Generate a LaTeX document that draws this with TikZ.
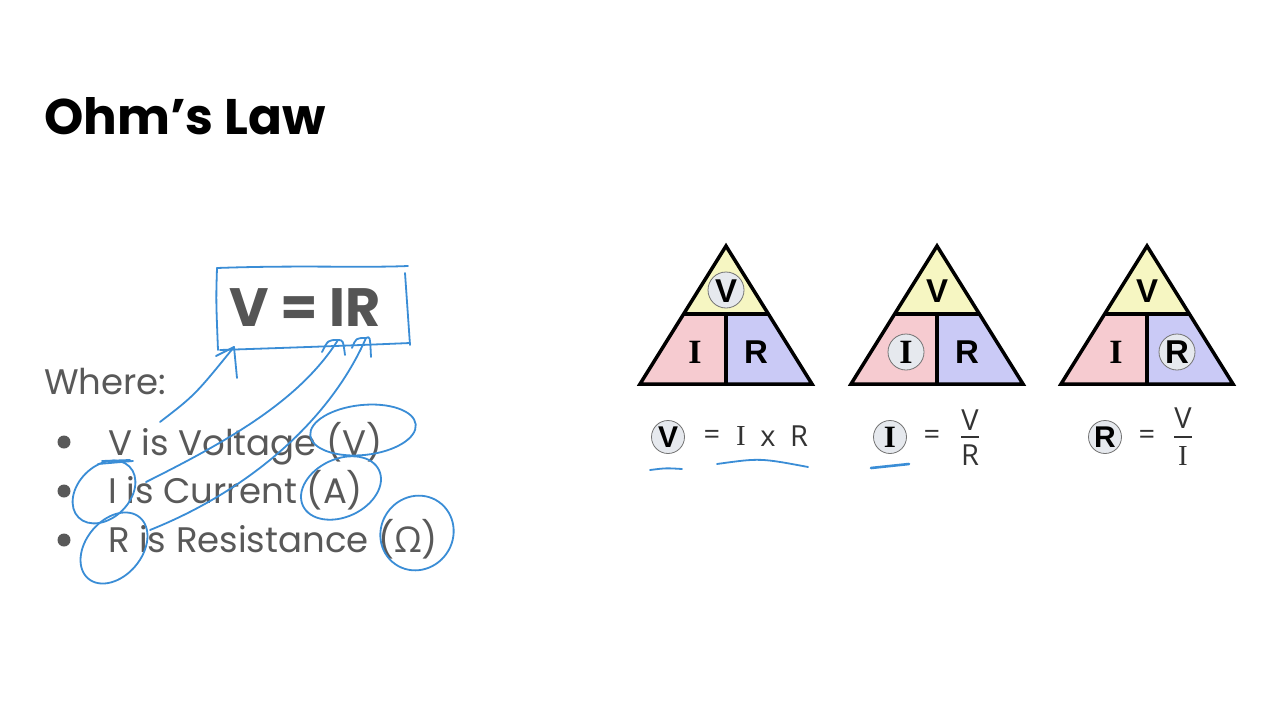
\documentclass[tikz,border=0pt]{standalone}
\usepackage{fontspec}
\setmainfont{Poppins}
\newfontfamily\symfont{Open Sans}
\newfontfamily\trifont{Liberation Sans}
\newfontfamily\slabfont{Liberation Serif}
\usetikzlibrary{arrows.meta,positioning}
\definecolor{pen}{HTML}{3A8DD6}
\definecolor{bodygray}{HTML}{595959}
\definecolor{lawgray}{HTML}{555555}
\definecolor{topyellow}{HTML}{F6F6C2}
\definecolor{leftpink}{HTML}{F6CBD0}
\definecolor{rightblue}{HTML}{CACAF6}
\definecolor{ringfill}{HTML}{E6E9EE}
\definecolor{formgray}{HTML}{333333}

\begin{document}
\begin{tikzpicture}[x=1pt,y=-1pt,
    pen/.style={draw=pen, line width=1.8pt, line cap=round, line join=round},
    bodytext/.style={text=bodygray, font=\fontsize{35.5}{40}\selectfont, anchor=base west, inner sep=0pt},
    dot/.style={circle, fill=bodygray, minimum size=13pt, inner sep=0pt},
    triletter/.style={font=\trifont\bfseries\fontsize{33}{35}\selectfont, inner sep=0pt},
    slabletter/.style={font=\slabfont\bfseries\fontsize{34}{35}\selectfont, inner sep=0pt},
    ring/.style={circle, fill=ringfill, draw=black!55, line width=0.8pt, minimum size=33pt, inner sep=0pt,
      font=\trifont\bfseries\fontsize{30}{31}\selectfont},
    formtext/.style={text=formgray, font=\symfont\fontsize{29}{31}\selectfont, inner sep=0pt}]
  \useasboundingbox[fill=white] (0,0) rectangle (1280,720);

  % title and law
  \node[anchor=base west, inner sep=0pt, font=\bfseries\fontsize{50}{54}\selectfont] (title) at (44,134) {Ohm’s Law};
  \node[anchor=base, inner sep=0pt, text=lawgray, font=\bfseries\fontsize{54}{58}\selectfont] (law) at (305,326) {V = IR};

  % list
  \node[bodytext] (where) at (44,394) {Where:};
  \node[dot] (b1) at (64,442) {};
  \node[dot] (b2) at (64,491) {};
  \node[dot] (b3) at (64,540) {};
  \node[bodytext] (volt) at (108,455) {V is Voltage (V)};
  \node[bodytext] (curr) at (108,503) {I is Current (A)};
  \node[bodytext] (resi) at (108,552) {R is Resistance ({\symfont Ω})};

  % triangles
  \foreach \i/\dx/\rx/\ry in {1/0/0/44, 2/211/-31/106, 3/421/30/106}{
    \begin{scope}[shift={(726+\dx,246)}]
      \fill[topyellow] (0,0) -- (-42.4,68) -- (42.4,68) -- cycle;
      \fill[leftpink] (-42.4,68) -- (-86,138) -- (0,138) -- (0,68) -- cycle;
      \fill[rightblue] (0,68) -- (0,138) -- (86,138) -- (42.4,68) -- cycle;
      \draw[line width=3.5pt] (0,0) -- (-86,138) -- (86,138) -- cycle;
      \draw[line width=3.5pt] (-42.4,68) -- (42.4,68) (0,68) -- (0,138);
      \draw[fill=ringfill, draw=black!55, line width=0.8pt] (\rx,\ry) circle (18);
      \node[triletter] (V\i) at (0,45) {V};
      \node[slabletter] (I\i) at (-31,106) {I};
      \node[triletter] (R\i) at (30,106) {R};
    \end{scope}
  }

  % formulas
  \node[ring] (fV) at (668,437) {V};
  \node[formtext] (eq1) at (712,437) {=};
  \node[formtext, font=\slabfont\fontsize{29}{31}\selectfont] (fI1) at (741,436) {I};
  \node[formtext] (fx) at (768,439) {x};
  \node[formtext] (fR1) at (799,436) {R};

  \node[ring, font=\slabfont\bfseries\fontsize{31}{32}\selectfont] (fI) at (890,437) {I};
  \node[formtext] (eq2) at (932,437) {=};
  \node[formtext] (nV2) at (970,420) {V};
  \node[formtext] (dR2) at (970,455) {R};
  \draw[formgray, line width=1.2pt] (961,437) -- (979,437);

  \node[ring] (fR) at (1105,437) {R};
  \node[formtext] (eq3) at (1147,437) {=};
  \node[formtext] (nV3) at (1183,418) {V};
  \node[formtext, font=\slabfont\fontsize{29}{31}\selectfont] (dI3) at (1183,456) {I};
  \draw[formgray, line width=1.2pt] (1174,437) -- (1192,437);

  % pen annotations: box round the law
  \draw[pen] (217,268) .. controls (300,265) and (360,268) .. (408,266);
  \draw[pen] (405,273) -- (410,345);
  \draw[pen] (410,343) .. controls (340,346) and (280,348) .. (220,350);
  \draw[pen] (217,268) .. controls (216,300) .. (218,350);

  % pen arrows from the list to the law
  \coordinate (tailV) at (160,422);
  \coordinate (headV) at (234,347);
  \coordinate (tailI) at (146,482);
  \coordinate (headI) at (338,340);
  \coordinate (tailR) at (150,530);
  \coordinate (headR) at (366,338);
  \draw[pen] (tailV) .. controls (195,395) .. (headV);
  \draw[pen] (216,356) -- (headV) -- (237,378);
  \draw[pen] (tailI) .. controls (230,440) and (300,400) .. (headI);
  \draw[pen] (322,352) .. controls (328,340) .. (headI) .. controls (343,340) .. (345,355);
  \draw[pen] (tailR) .. controls (250,490) and (330,420) .. (headR);
  \draw[pen] (352,348) .. controls (356,338) .. (headR) .. controls (370,336) .. (371,357);

  % pen loops
  \draw[pen, rotate around={6:(363,430)}] (363,430) ellipse [x radius=53, y radius=25];
  \draw[pen, rotate around={25:(341,488)}] (341,488) ellipse [x radius=42, y radius=29];
  \draw[pen, rotate around={55:(417,533)}] (417,533) ellipse [x radius=38, y radius=36];
  \draw[pen, rotate around={45:(104,492)}] (104,492) ellipse [x radius=36, y radius=26];
  \draw[pen, rotate around={50:(114,548)}] (114,548) ellipse [x radius=40, y radius=28];
  \draw[pen] (98,464) -- (133,461) (102,461) -- (130,460);

  % pen underlines
  \draw[pen] (650,470) .. controls (666,468) .. (682,469);
  \draw[pen] (717,464) .. controls (760,458) .. (808,467);
  \draw[pen, line width=2.6pt] (871,468) -- (909,464);
\end{tikzpicture}
\end{document}
